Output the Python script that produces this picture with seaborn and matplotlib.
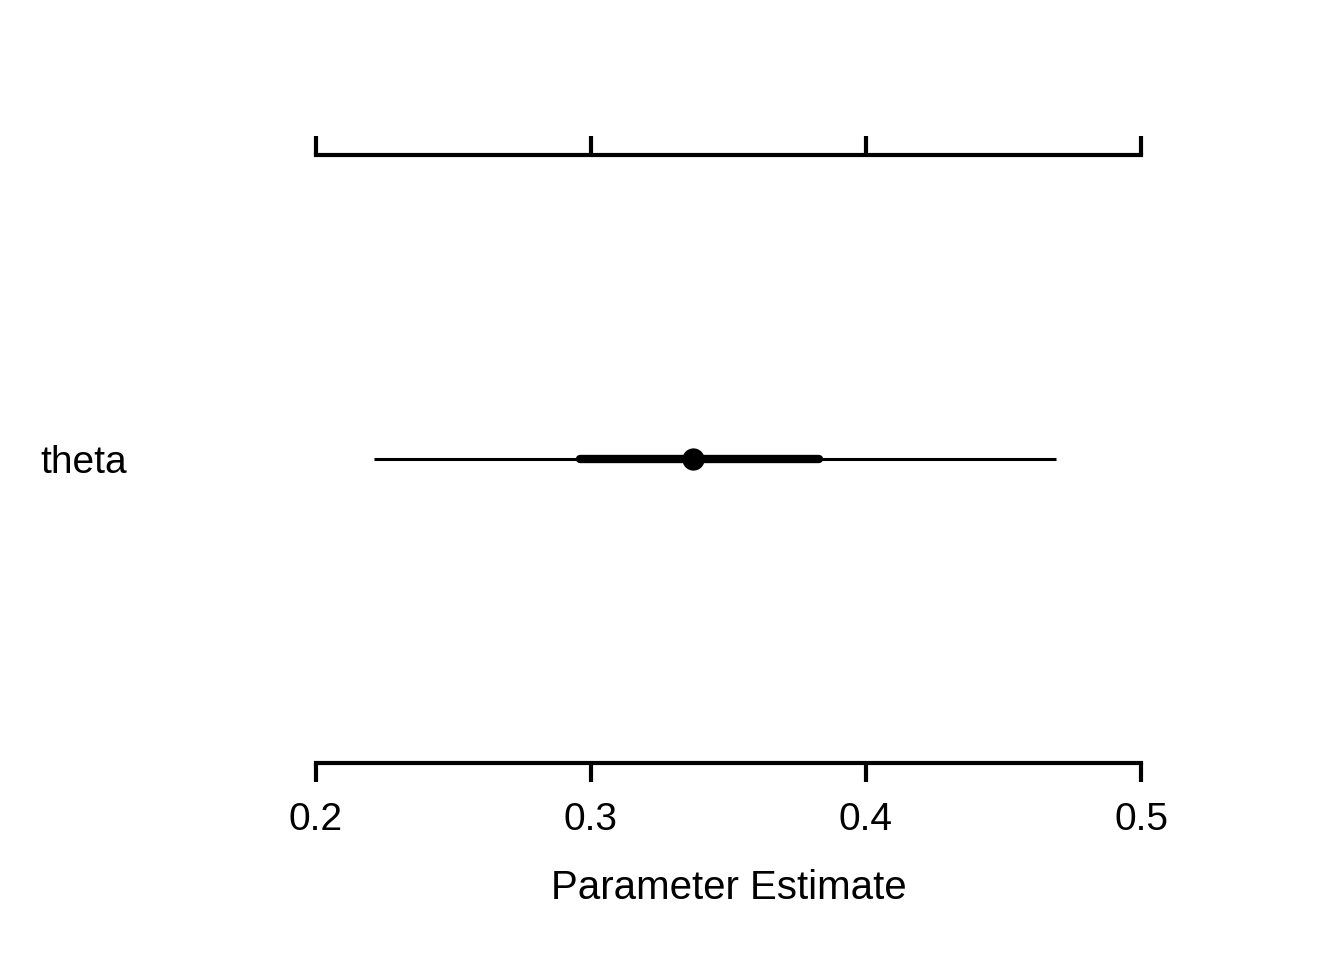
import matplotlib
matplotlib.use("Agg")
import matplotlib.pyplot as plt
import seaborn as sns
import pandas as pd

params = ["theta"]
estimates = [0.337]
outer_low = [0.221]
outer_high = [0.469]
inner_low = [0.296]
inner_high = [0.383]
xticks = [0.2, 0.3, 0.4, 0.5]

sns.set_style("white")
plt.rcParams['font.family'] = ['Liberation Sans', 'DejaVu Sans']
plt.rcParams['text.color'] = 'black'
plt.rcParams['axes.labelcolor'] = 'black'

fig = plt.figure(figsize=(13.44, 9.6), dpi=100)
ax = fig.add_axes([0.235, 0.205, 0.614, 0.634])

df = pd.DataFrame({"param": params, "est": estimates})
ypos = [0]
ax.hlines(ypos, outer_low, outer_high, color="black", lw=2.2)
ax.hlines(ypos, inner_low, inner_high, color="black", lw=6, capstyle="round")
sns.scatterplot(x=df["est"], y=ypos, ax=ax, color="black", s=220, zorder=5, edgecolor="black")

ax.set_xlim(0.2, 0.5)
ax.set_ylim(-1, 1)
ax.set_yticks([0])
ax.set_yticklabels(params, fontsize=28, color="black")
ax.set_xticks(xticks)
ax.set_xticklabels([str(t) for t in xticks], fontsize=28, color="black")
ax.set_xlabel("Parameter Estimate", fontsize=29, labelpad=22)
ax.set_ylabel("")
for s in ["left", "right"]:
    ax.spines[s].set_visible(False)
for s in ["top", "bottom"]:
    ax.spines[s].set_linewidth(3)
    ax.spines[s].set_color("black")
ax.tick_params(axis="x", which="both", direction="out", length=14, width=3, color="black",
               top=True, bottom=True, labeltop=False, pad=14)
ax.tick_params(axis="y", length=0, pad=136)
fig.savefig("out.png", dpi=100)
